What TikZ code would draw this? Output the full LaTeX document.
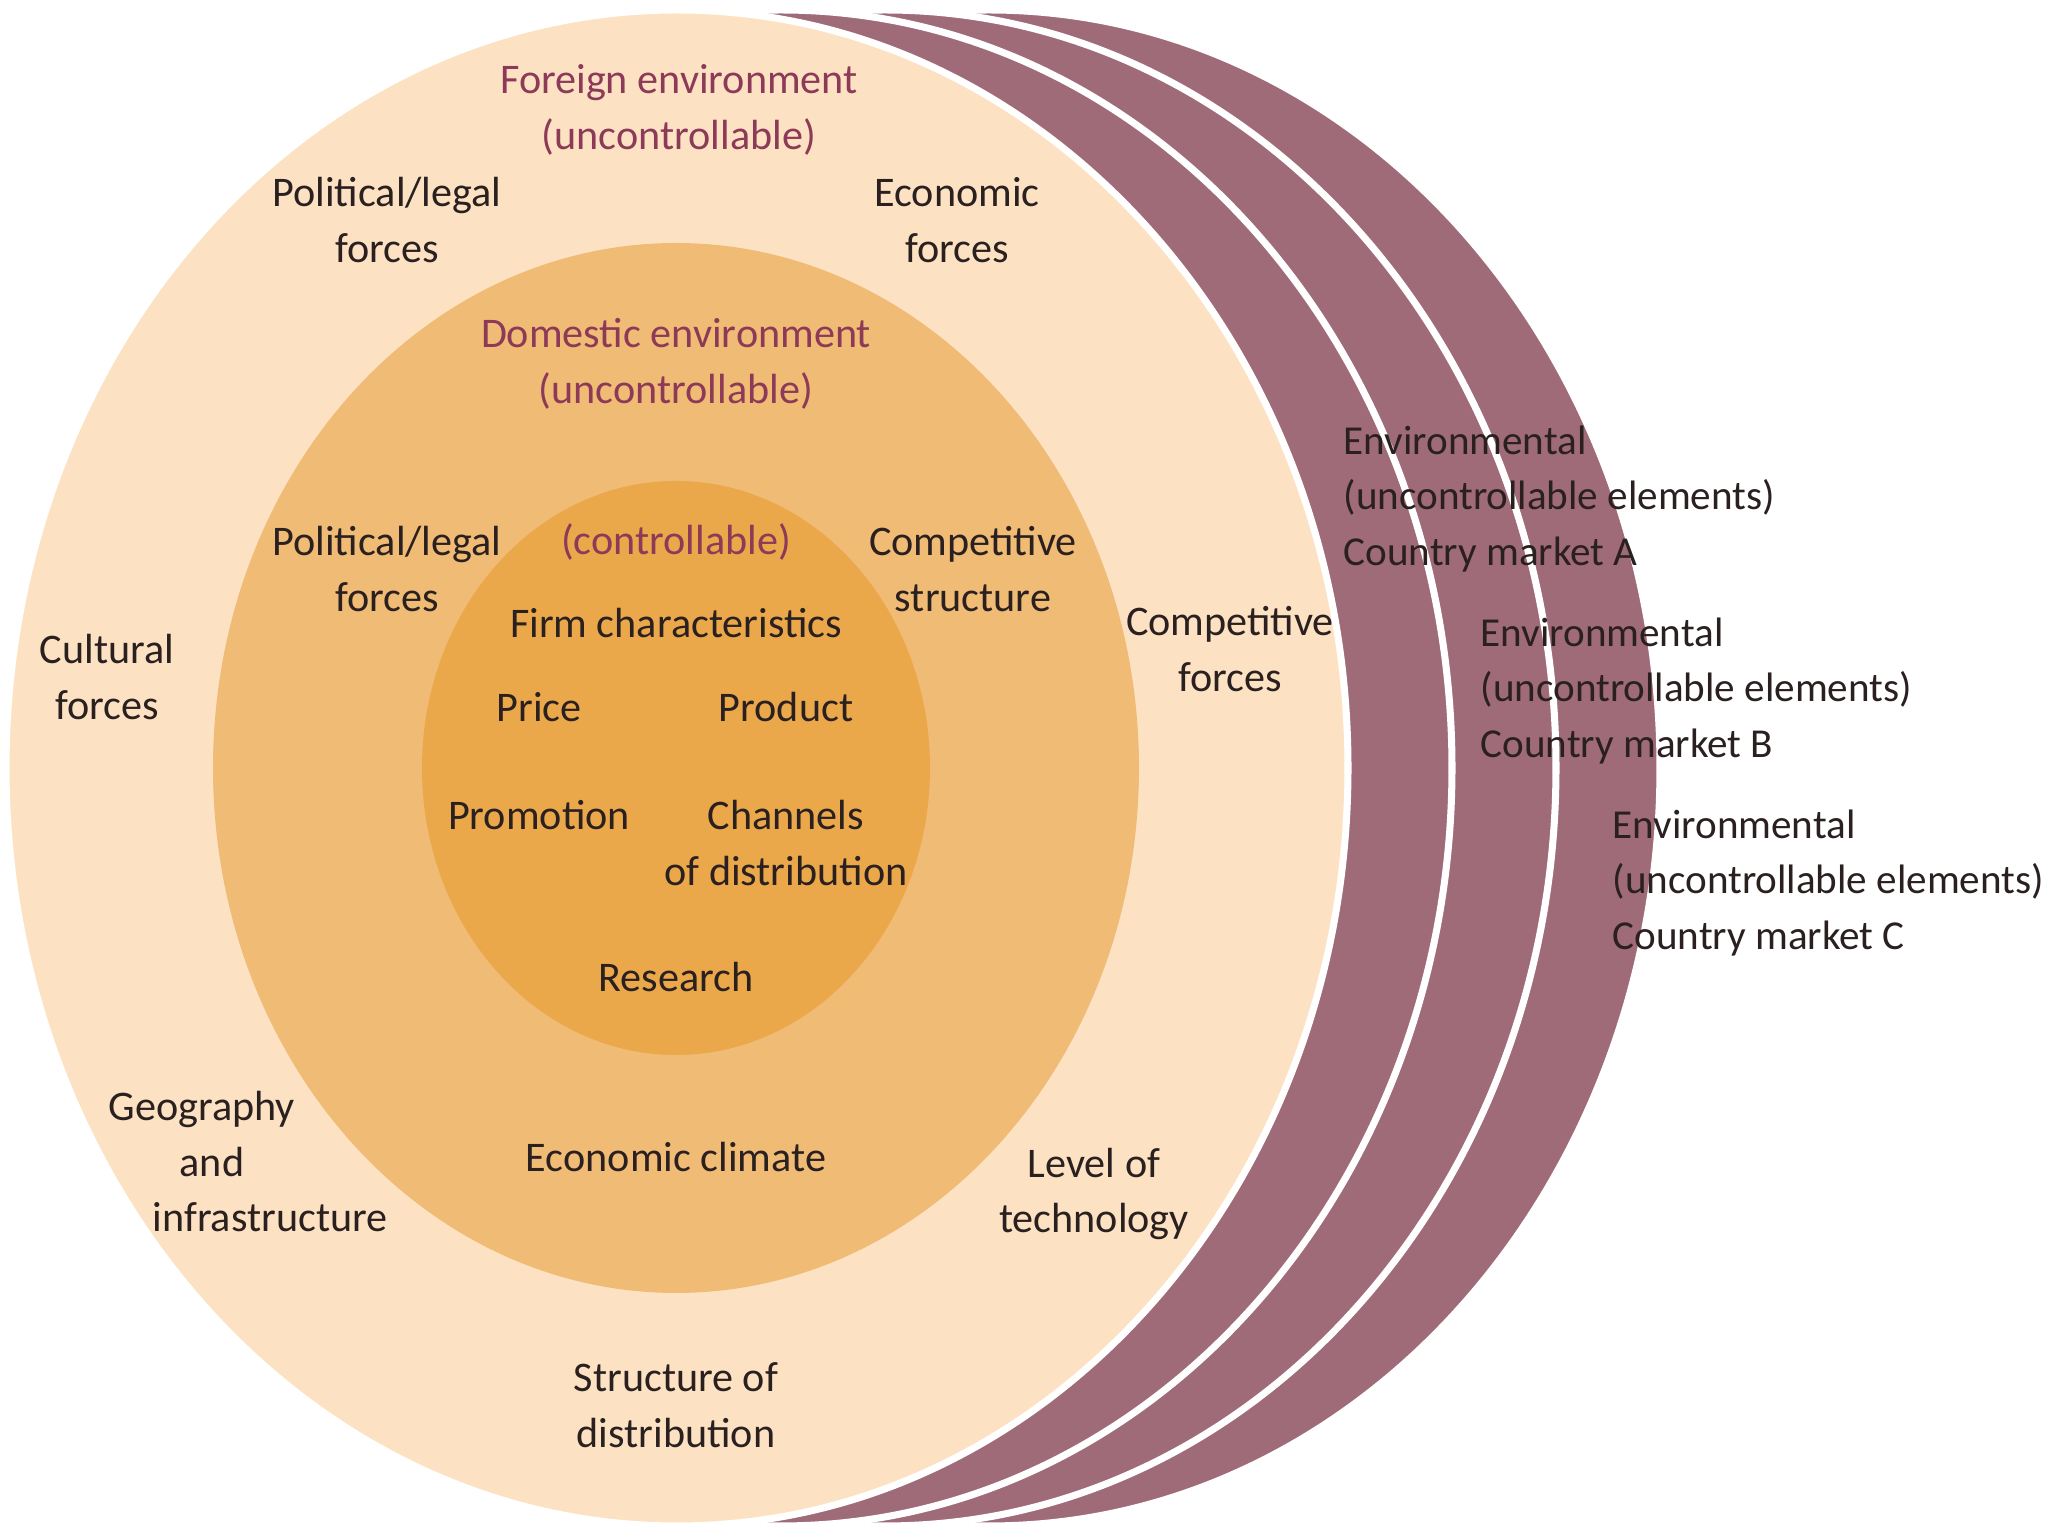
\documentclass[tikz,border=0pt]{standalone}
\usepackage{fontspec}
\setmainfont{Carlito}
\definecolor{foreignfill}{HTML}{FCE2C3}
\definecolor{domesticfill}{HTML}{F0BB74}
\definecolor{firmfill}{HTML}{EBA84A}
\definecolor{marketfill}{HTML}{A06B79}
\definecolor{titletext}{HTML}{8C3A58}
\definecolor{bodytext}{HTML}{2A2020}
\begin{document}
\begin{tikzpicture}[lbl/.style={align=center,text=bodytext,inner sep=0pt,font=\fontsize{12}{15.8}\selectfont},
	ttl/.style={lbl,text=titletext},
	mkt/.style={lbl,align=left,anchor=west,font=\fontsize{11.7}{15.8}\selectfont}]
				\useasboundingbox (0,0) rectangle (20.48,15.36);
				% country markets behind, then the three rings
				\foreach \k in {3,2,1}
					\draw[white,line width=2pt,fill=marketfill] (6.77+1.04*\k,7.68) ellipse [x radius=6.71,y radius=7.58];
				\draw[white,line width=2pt,fill=foreignfill] (6.77,7.68) ellipse [x radius=6.71,y radius=7.58];
				\fill[domesticfill] (6.76,7.68) ellipse [x radius=4.63,y radius=5.25];
				\fill[firmfill] (6.76,7.68) ellipse [x radius=2.54,y radius=2.87];
				% foreign ring
				\node[ttl] (foreign) at (6.79,14.26) {Foreign environment\\(uncontrollable)};
				\node[lbl] (polout) at (3.87,13.16) {Political/legal\\forces};
				\node[lbl] (econ) at (9.57,13.16) {Economic\\forces};
				\node[lbl] (cultural) at (1.07,8.59) {Cultural\\forces};
				\node[lbl] (compforces) at (12.30,8.87) {Competitive\\forces};
				\node[lbl,align=left,anchor=west] (geo) at (1.08,3.74) {Geography\\\hspace*{0.71cm}and\\\hspace*{0.44cm}infrastructure};
				\node[lbl] (level) at (10.94,3.42) {Level of\\technology};
				\node[lbl] (structure) at (6.76,1.31) {Structure of\\distribution};
				% domestic ring
				\node[ttl] (domestic) at (6.76,11.72) {Domestic environment\\(uncontrollable)};
				\node[lbl] (polmid) at (3.87,9.67) {Political/legal\\forces};
				\node[lbl] (compstruct) at (9.73,9.67) {Competitive\\structure};
				\node[lbl] (climate) at (6.76,3.79) {Economic climate};
				% firm
				\node[ttl] (ctrl) at (6.76,9.94) {(controllable)};
				\node[lbl] (firm) at (6.76,9.13) {Firm characteristics};
				\node[lbl] (price) at (5.39,8.29) {Price};
				\node[lbl] (product) at (7.86,8.29) {Product};
				\node[lbl] (promotion) at (5.39,7.21) {Promotion};
				\node[lbl] (channels) at (7.86,6.93) {Channels\\of distribution};
				\node[lbl] (research) at (6.76,5.59) {Research};
				% markets
				\node[mkt] (marketa) at (13.43,10.37) {Environmental\\(uncontrollable elements)\\Country market A};
				\node[mkt] (marketb) at (14.80,8.45) {Environmental\\(uncontrollable elements)\\Country market B};
				\node[mkt] (marketc) at (16.12,6.53) {Environmental\\(uncontrollable elements)\\Country market C};
				\end{tikzpicture}
\end{document}
